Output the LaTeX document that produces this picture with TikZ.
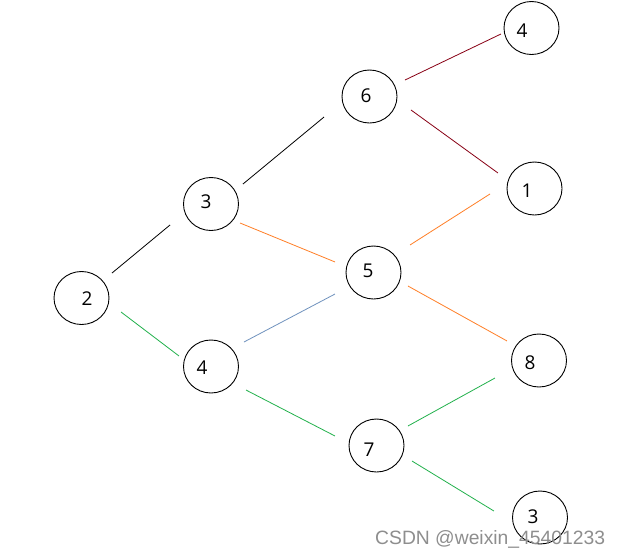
\documentclass[tikz,border=0pt]{standalone}
\usepackage{fontspec}
\setmainfont{Open Sans}
\newfontfamily\markfont{Liberation Sans}
\usetikzlibrary{calc,shapes.geometric}
\begin{document}
\begin{tikzpicture}[x=1pt,y=-1pt,
  vertex/.style={draw=black,line width=.9pt,ellipse,minimum width=55pt,minimum height=53pt,inner sep=0pt},
  num/.style={font=\fontsize{19}{22}\selectfont,text=black,inner sep=0pt},
  edge/.style={line width=.8pt}]
\definecolor{pdarkred}{HTML}{880015}\definecolor{porange}{HTML}{FF7F27}
\definecolor{pgreen}{HTML}{22B14C}\definecolor{pblue}{HTML}{7092BE}
\definecolor{pmark}{HTML}{8E8E8E}
\fill[white] (0,0) rectangle (621,557);
\useasboundingbox (0,0) rectangle (621,557);
\node[vertex] (v2) at (81.5,298) {};
\node[vertex] (v3) at (211,204) {};
\node[vertex] (v4) at (211,366.5) {};
\node[vertex] (v6) at (369.5,96.5) {};
\node[vertex] (v5) at (373.5,272.5) {};
\node[vertex] (v7) at (376.5,445.5) {};
\node[vertex] (v4t) at (531.5,28) {};
\node[vertex] (v1) at (534.5,188.5) {};
\node[vertex] (v8) at (539,360.5) {};
\node[vertex] (v3b) at (540,517.5) {};
\node[num] (l2) at (87,299) {2};
\node[num] (l3) at (206,202) {3};
\node[num] (l4) at (202,368) {4};
\node[num] (l6) at (366,96) {6};
\node[num] (l5) at (368,271) {5};
\node[num] (l7) at (369,450) {7};
\node[num] (l4t) at (522,31) {4};
\node[num] (l1) at (527,191) {1};
\node[num] (l8) at (530,363) {8};
\node[num] (l3b) at (533,517) {3};
\draw[edge,black] ($(v2)+(-39.3:39.4)$) -- ($(v3)+(152.9:46)$);
\draw[edge,pgreen] ($(v2)+(19.5:41.9)$) -- ($(v4)+(-161.8:33.7)$);
\draw[edge,black] ($(v3)+(-32:37.7)$) -- ($(v6)+(155.7:49.9)$);
\draw[edge,porange] ($(v3)+(33.2:34.7)$) -- ($(v5)+(-164.7:39.9)$);
\draw[edge,pblue] ($(v4)+(-36.6:41.1)$) -- ($(v5)+(150.8:44.1)$);
\draw[edge,pgreen] ($(v4)+(33.9:42.2)$) -- ($(v7)+(-167.1:42.6)$);
\draw[edge,pdarkred] ($(v6)+(-24.9:39.1)$) -- ($(v4t)+(168.9:31.1)$);
\draw[edge,pdarkred] ($(v6)+(18:43.6)$) -- ($(v1)+(-157:39.7)$);
\draw[edge,porange] ($(v5)+(-37:45.7)$) -- ($(v1)+(173:44.8)$);
\draw[edge,porange] ($(v5)+(21.4:37)$) -- ($(v8)+(-148.6:37.5)$);
\draw[edge,pgreen] ($(v7)+(-31.8:37)$) -- ($(v8)+(158.3:47.4)$);
\draw[edge,pgreen] ($(v7)+(23.6:38.7)$) -- ($(v3b)+(-172:46.5)$);
\node[anchor=base west,inner sep=0pt,font=\markfont\fontsize{19.3}{21}\selectfont,text=pmark] (mark) at (375,544) {CSDN @weixin\_45401233};
\end{tikzpicture}
\end{document}
